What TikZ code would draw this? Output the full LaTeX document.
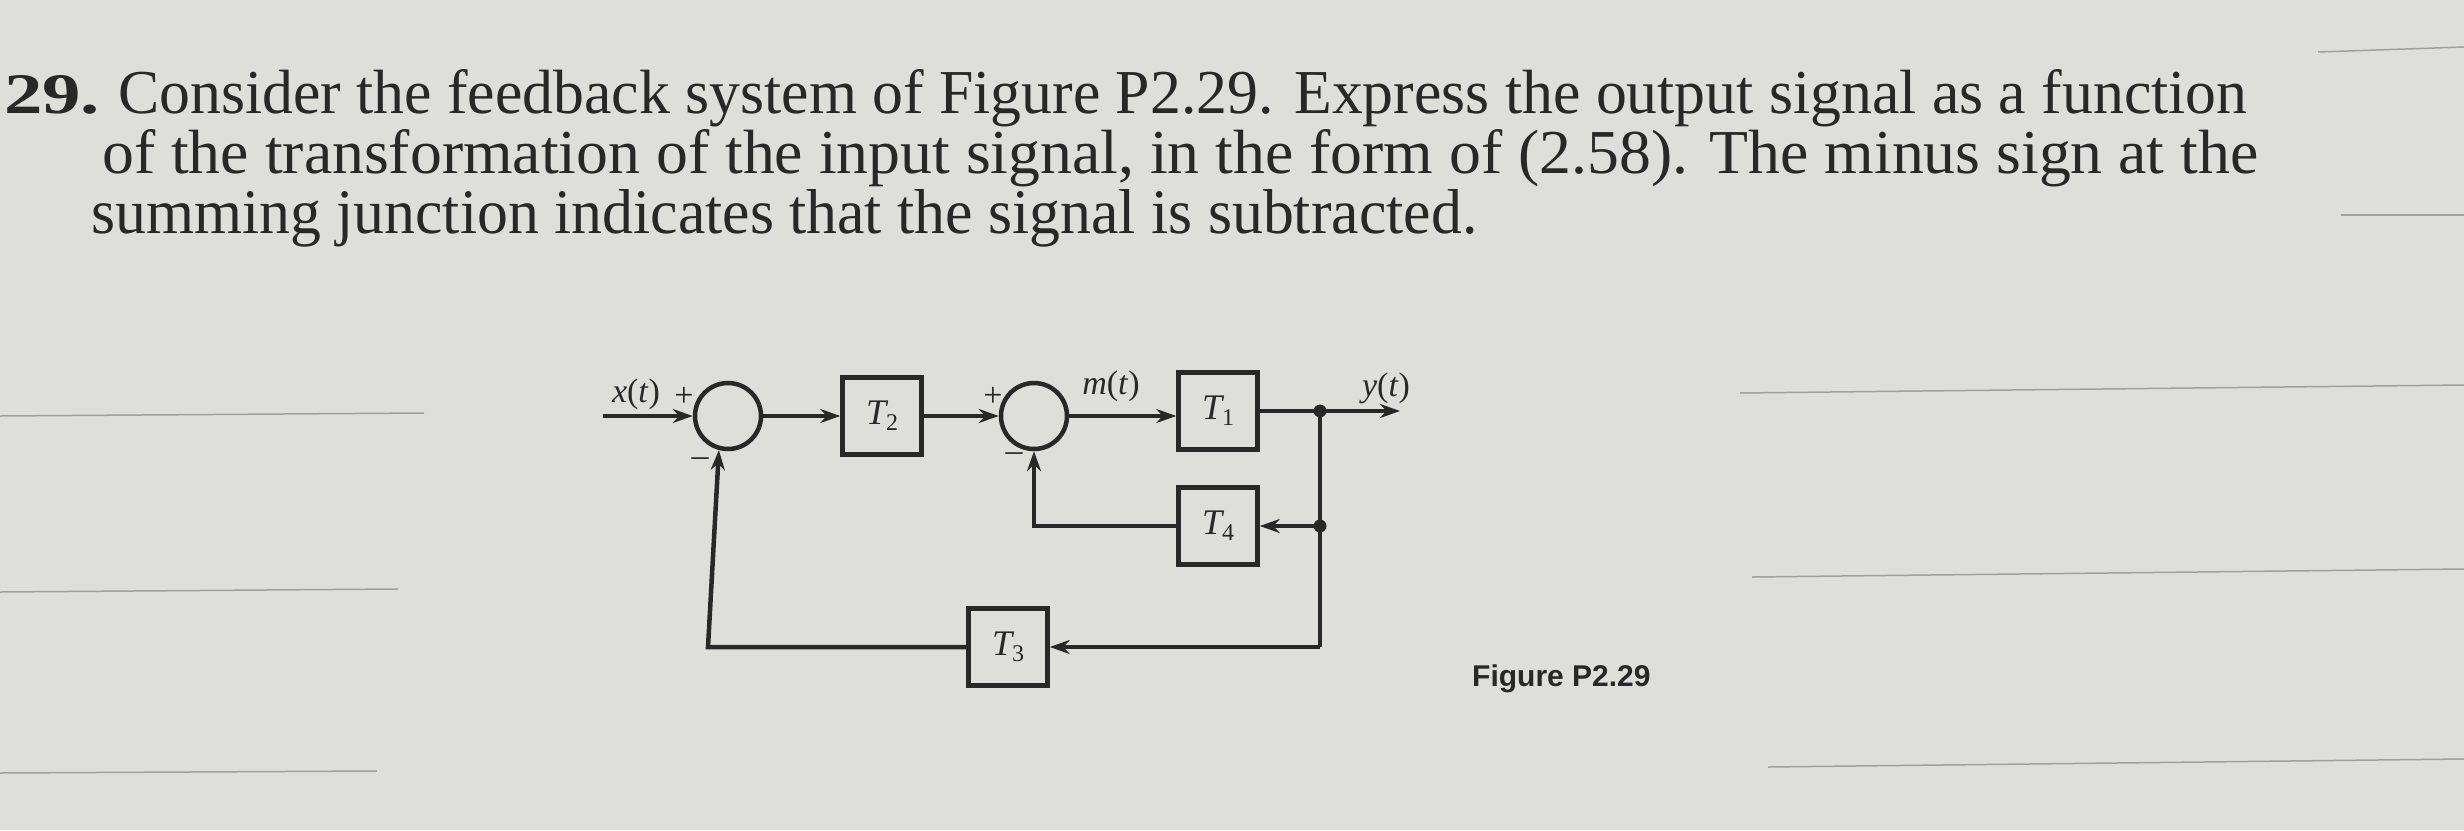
\documentclass[tikz,border=0pt]{standalone}
\usepackage{fontspec}
\setmainfont{Liberation Serif}
\newfontfamily\figsans{Liberation Sans}
\usetikzlibrary{arrows.meta}
\definecolor{bg}{RGB}{222,222,218}
\definecolor{ink}{RGB}{40,40,40}
\definecolor{rule}{RGB}{160,160,158}
\newcommand{\Tsub}[1]{{\itshape T}\raisebox{-0.35ex}{\fontsize{24}{24}\selectfont\upshape #1}}
\begin{document}
\begin{tikzpicture}[x=1pt,y=-1pt,
  wire/.style={draw=ink,line width=4.5pt},
  sig/.style={wire,-{Stealth[length=20pt,width=14pt]}},
  blk/.style={draw=ink,line width=4.5pt,minimum width=79pt,minimum height=77pt,inner sep=0pt,font=\fontsize{36}{36}\selectfont,text=ink},
  sumc/.style={draw=ink,line width=4.5pt,circle,minimum size=66pt,inner sep=0pt},
  lbl/.style={font=\fontsize{34}{34}\selectfont,text=ink,inner sep=1pt},
  dotn/.style={circle,fill=ink,minimum size=13pt,inner sep=0pt},
  nline/.style={draw=rule,line width=1.5pt},
  para/.style={anchor=base west,inner sep=0pt,text=ink}]
\fill[bg] (0,0) rectangle (2464,830);
\useasboundingbox (0,0) rectangle (2464,830);
% notebook lines
\draw[nline] (2318,52) -- (2464,47);
\draw[nline] (2341,215) -- (2464,215);
\draw[nline] (1740,393) -- (2464,385);
\draw[nline] (1752,577) -- (2464,569);
\draw[nline] (1768,767) -- (2464,759);
\draw[nline] (0,416) -- (424,413);
\draw[nline] (0,592) -- (398,589);
\draw[nline] (0,773) -- (377,771);
% paragraph
\node[para] (l0) at (4,113) {\resizebox{96pt}{38pt}{\fontsize{50}{50}\selectfont\bfseries 29.}};
\node[para] (l1) at (118,113) {\resizebox{2129pt}{44pt}{\fontsize{50}{50}\selectfont Consider the feedback system of Figure P2.29. Express the output signal as a function}};
\node[para] (l2) at (102,173) {\resizebox{2156pt}{44pt}{\fontsize{50}{50}\selectfont of the transformation of the input signal, in the form of (2.58). The minus sign at the}};
\node[para] (l3) at (91,233) {\resizebox{1386pt}{44pt}{\fontsize{50}{50}\selectfont summing junction indicates that the signal is subtracted.}};
% diagram
\node[sumc] (s1) at (728,416) {};
\node[blk] (t2) at (882,416) {\Tsub{2}};
\node[sumc] (s2) at (1034,416) {};
\node[blk] (t1) at (1218,411) {\Tsub{1}};
\node[blk] (t4) at (1218,526) {\Tsub{4}};
\node[blk] (t3) at (1008,647) {\Tsub{3}};
\node[dotn] (d1) at (1320,411) {};
\node[dotn] (d2) at (1320,526) {};
\coordinate (xin) at (603,416);
\coordinate (yout) at (1400,411);
\coordinate (c3) at (1320,647);
\coordinate (c1) at (708,647);
\coordinate (c4) at (1034,526);
\draw[sig] (xin) -- (s1.west);
\draw[sig] (s1.east) -- (t2.west);
\draw[sig] (t2.east) -- (s2.west);
\draw[sig] (s2.east) -- (s2.east -| t1.west);
\draw[sig] (t1.east) -- (yout);
\draw[wire] (d1.center) -- (c3);
\draw[sig] (d2.center) -- (t4.east);
\draw[sig] (t4.west) -- (c4) -- (s2.south);
\draw[sig] (c3) -- (t3.east);
\draw[sig] (t3.west) -- (c1) -- (s1.-105);
% labels
\node[lbl] (lx) at (636,394) {\textit{x}(\textit{t})};
\node[lbl] (p1) at (684,397) {+};
\node[lbl] (m1) at (700,462) {–};
\node[lbl] (p2) at (993,397) {+};
\node[lbl] (m2) at (1014,457) {–};
\node[lbl] (lm) at (1111,386) {\textit{m}(\textit{t})};
\node[lbl] (ly) at (1386,388) {\textit{y}(\textit{t})};
\node[anchor=west,inner sep=0pt,text=ink,font=\figsans\bfseries\fontsize{30}{30}\selectfont] (fig) at (1472,679) {Figure P2.29};
\end{tikzpicture}
\end{document}
